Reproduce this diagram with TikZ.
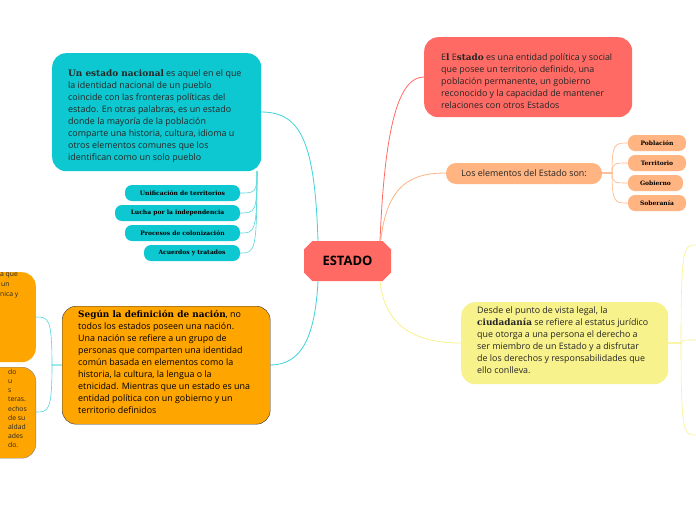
\documentclass[tikz,border=0pt]{standalone}
\usepackage{fontspec}
\setmainfont{Open Sans}
\newfontfamily\slab{DejaVu Serif}
\usetikzlibrary{shapes.geometric,shapes.misc}
\hyphenpenalty=10000
\exhyphenpenalty=10000
\definecolor{cred}{HTML}{FF6B64}
\definecolor{cpeach}{HTML}{FFB482}
\definecolor{cyel}{HTML}{F8F28C}
\definecolor{cteal}{HTML}{0DC8D0}
\definecolor{corg}{HTML}{FFA500}
\tikzset{
 box/.style={rounded corners=14pt,inner sep=0pt,minimum width=#1},
 txt/.style={anchor=north west,align=left,font=\fontsize{8.9}{12}\selectfont,text=black!85,inner sep=0pt},
 pill/.style={rounded corners=7pt,font=\slab\bfseries\fontsize{6}{7}\selectfont,text=black,inner sep=0pt,minimum height=16pt,fill=cpeach},
 tpill/.style={pill,fill=cteal},
 lk/.style={line width=0.8pt},
}
\begin{document}
\begin{tikzpicture}[x=1pt,y=-1pt]
\useasboundingbox[fill=white] (0,0) rectangle (696,520);
% connectors
\draw[lk,cred] (380,241) .. controls (385,120) and (400,77) .. (424,77);
\draw[lk,cpeach] (380,248) .. controls (385,185) and (410,173) .. (446,173);
\draw[lk,cyel] (380,281) .. controls (385,330) and (420,343) .. (461,343);
\draw[lk,cteal!80] (318,242) .. controls (315,140) and (300,112) .. (261,112);
\draw[lk,cteal!80] (318,281) .. controls (315,340) and (300,365) .. (270,365);
\foreach \y in {193,213,233,253}
  \draw[lk,cteal!70,line width=0.6pt] (257,171) .. controls (257,\y) and (255,\y) .. (240,\y);
\foreach \y in {143,163,183,203}
  \draw[lk,cpeach,line width=0.6pt] (602,173) -- (612,173) .. controls (612,\y) and (615,\y) .. (628,\y);
\foreach \y in {245,340,435}
  \draw[lk,cyel,line width=0.6pt] (668,343) -- (681,343) .. controls (681,\y) and (684,\y) .. (696,\y);
\foreach \y in {317,412}
  \draw[lk,cteal!70,line width=0.6pt] (62,365) -- (52,365) .. controls (52,\y) and (48,\y) .. (36,\y);
% center
\node[fill=cred,minimum width=87pt,minimum height=40pt,font=\bfseries\fontsize{13}{14}\selectfont,text=black,
  chamfered rectangle,chamfered rectangle xsep=5pt,inner sep=0pt] (c) at (347.5,261) {ESTADO};
% red box
\node[box=208pt,fill=cred,minimum height=80pt,anchor=north west] (r) at (424,37) {};
\node[txt] at (441,53)
 {E{\slab\bfseries l} E{\slab\bfseries stado} es una entidad política y social\\que posee un territorio definido, una\\población permanente, un gobierno\\reconocido y la capacidad de mantener\\relaciones con otros Estados};
% elementos
\node[fill=cpeach,rounded corners=10pt,minimum width=156pt,minimum height=21pt,font=\fontsize{8.9}{10}\selectfont,inner sep=0pt,text=black!85] (e) at (524,173.5) {Los elementos del Estado son:};
\node[pill,minimum width=58pt] (p1) at (657,143) {Población};
\node[pill,minimum width=58pt] (p2) at (657,163) {Territorio};
\node[pill,minimum width=55pt] (p3) at (655.5,183) {Gobierno};
\node[pill,minimum width=58pt] (p4) at (657,203) {Soberanía};
% yellow
\node[box=207pt,fill=cyel,minimum height=82pt,anchor=north west] (y) at (461,302) {};
\node[txt] at (477,307)
 {Desde el punto de vista legal, la\\{\slab\bfseries ciudadanía} se refiere al estatus jurídico\\que otorga a una persona el derecho a\\ser miembro de un Estado y a disfrutar\\de los derechos y responsabilidades que\\ello conlleva.};
% teal
\node[box=209pt,fill=cteal,minimum height=118pt,anchor=north west] (t) at (52,53) {};
\node[txt] at (68,70)
 {{\slab\bfseries Un estado nacional} es aquel en el que\\la identidad nacional de un pueblo\\coincide con las fronteras políticas del\\estado. En otras palabras, es un estado\\donde la mayoría de la población\\comparte una historia, cultura, idioma u\\otros elementos comunes que los\\identifican como un solo pueblo};
\node[tpill,minimum width=115pt] (u1) at (182.5,193) {Unificación de territorios};
\node[tpill,minimum width=125pt] (u2) at (177.5,213) {Lucha por la independencia};
\node[tpill,minimum width=115pt] (u3) at (182.5,233) {Procesos de colonización};
\node[tpill,minimum width=96pt] (u4) at (192,253) {Acuerdos y tratados};
% orange
\node[box=208pt,fill=corg,draw=black!80,minimum height=118pt,anchor=north west] (o) at (62,306) {};
\node[txt,text=black] at (78,310)
 {{\slab\bfseries Según la definición de nación}, no\\todos los estados poseen una nación.\\Una nación se refiere a un grupo de\\personas que comparten una identidad\\común basada en elementos como la\\historia, la cultura, la lengua o la\\etnicidad. Mientras que un estado es una\\entidad política con un gobierno y un\\territorio definidos};
% left partial boxes
\begin{scope}
\clip (0,0) rectangle (36.5,520);
\node[box=80pt,fill=corg,minimum height=90pt,anchor=north east] (l1) at (36,272) {};
\node[txt,font=\fontsize{6.8}{10}\selectfont] at (0,273) {a que\\\hspace*{1pt}un\\nica y};
\node[box=80pt,fill=corg,draw=black!50,minimum height=91pt,anchor=north east] (l2) at (36,367) {};
\node[txt,font=\fontsize{6.8}{9.2}\selectfont] at (8,369) {do\\u\\s\\teras.\\echos\\de su\\aldad\\ades\\do.};
\end{scope}
\end{tikzpicture}
\end{document}
